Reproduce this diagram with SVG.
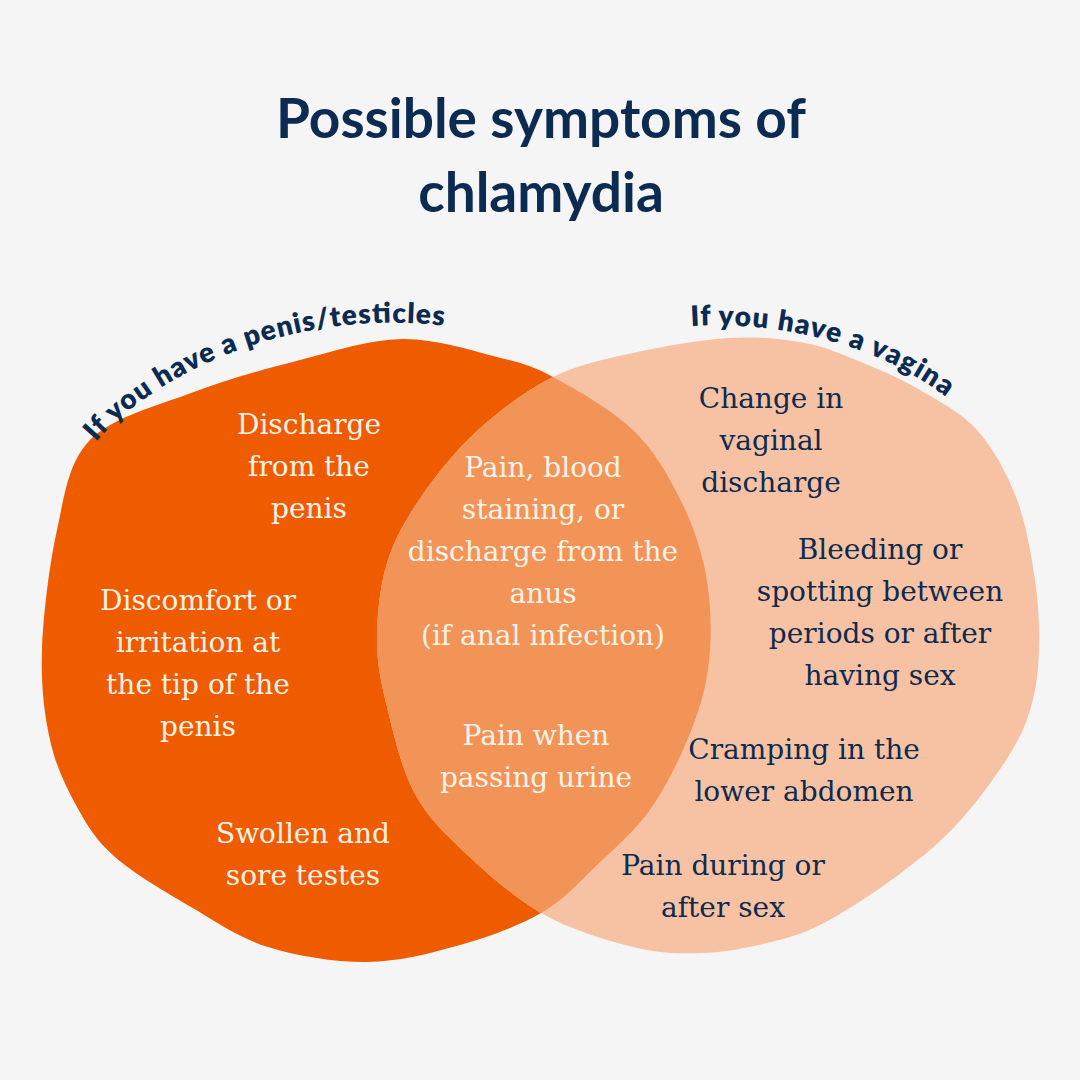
<svg xmlns="http://www.w3.org/2000/svg" width="1080" height="1080" viewBox="0 0 1080 1080">
  <style>
    .title { font-family: Lato, "Open Sans", "Liberation Sans", sans-serif; font-weight: 700; font-size: 55px; fill: #0c2b52; text-anchor: middle; }
    .arc { font-family: Lato, "Open Sans", "Liberation Sans", sans-serif; font-weight: 800; font-size: 28px; fill: #0c2b52; }
    .body { font-family: "DejaVu Serif", "Liberation Serif", serif; font-size: 28px; text-anchor: middle; }
    .light { fill: #fff3e8; }
    .dark { fill: #0e2a4e; }
  </style>
  <defs>
    <path id="leftShape" d="M402,339 C434.8,338.5 471.8,350.7 497,357 C522.2,363.3 530.3,364.8 553,377 C575.7,389.2 612,410 633,430 C654,450 667,473.7 679,497 C691,520.3 699.8,544.5 705,570 C710.2,595.5 711.8,624.5 710,650 C708.2,675.5 703.7,696.8 694,723 C684.3,749.2 668.5,783 652,807 C635.5,831 613.5,849.3 595,867 C576.5,884.7 563.5,900 541,913 C518.5,926 489,936.8 460,945 C431,953.2 399,961.7 367,962 C335,962.3 297.3,956.2 268,947 C238.7,937.8 216.5,922 191,907 C165.5,892 134,873.7 115,857 C96,840.3 87.8,826.5 77,807 C66.2,787.5 55.8,766.2 50,740 C44.2,713.8 40.8,685 42,650 C43.2,615 49.3,565 57,530 C64.7,495 68,462.8 90,440 C112.3,417.2 155.7,406.3 191,393 C226.3,379.7 264.8,369 300,360 C335.2,351 369.2,339.5 402,339 Z"/>
    <path id="rightShape" d="M729,338 C757.7,336.3 782.7,338.8 805,343 C827.3,347.2 843.8,355.2 863,363 C882.2,370.8 901,378.8 920,390 C939,401.2 961,412.2 977,430 C993,447.8 1006.3,472 1016,497 C1025.7,522 1031.2,554.5 1035,580 C1038.8,605.5 1039.7,628.8 1039,650 C1038.3,671.2 1036.2,689.2 1031,707 C1025.8,724.8 1020.2,737.7 1008,757 C995.8,776.3 975.8,803.7 958,823 C940.2,842.3 923.3,856.3 901,873 C878.7,889.7 846.3,911.3 824,923 C801.7,934.7 787.3,938 767,943 C746.7,948 724.3,952.3 702,953 C679.7,953.7 659.8,953.7 633,947 C606.2,940.3 570,929.7 541,913 C512,896.3 480.3,867.5 459,847 C437.7,826.5 425,813.3 413,790 C401,766.7 393,732 387,707 C381,682 377,664 377,640 C377,616 379.7,586.8 387,563 C394.3,539.2 405.8,519.2 421,497 C436.2,474.8 456,450 478,430 C500,410 527.2,389.8 553,377 C578.8,364.2 603.7,359.5 633,353 C662.3,346.5 700.3,339.7 729,338 Z"/>
    <clipPath id="clipLeft"><use href="#leftShape"/></clipPath>
    <path id="arcLeft" d="M96,442 C160,368 310,300 472,330"/>
    <path id="arcRight" d="M691,326 C760,322 872,334 960,408"/>
  </defs>

  <rect width="1080" height="1080" fill="#f5f5f5"/>

  <g id="title">
    <text class="title" x="541" y="138">Possible symptoms of</text>
    <text class="title" x="541" y="212">chlamydia</text>
  </g>

  <g id="set-penis">
    <use href="#leftShape" fill="#ef5c00"/>
  </g>
  <g id="set-vagina">
    <use href="#rightShape" fill="#f6c2a3"/>
  </g>
  <g id="set-overlap">
    <use href="#rightShape" fill="#f29357" clip-path="url(#clipLeft)"/>
  </g>

  <g id="label-penis">
    <text class="arc"><textPath href="#arcLeft" textLength="380">If you have a penis/testicles</textPath></text>
  </g>
  <g id="label-vagina">
    <text class="arc"><textPath href="#arcRight" textLength="270">If you have a vagina</textPath></text>
  </g>

  <g id="penis-discharge" class="body light">
    <text x="309" y="434">Discharge</text>
    <text x="309" y="476">from the</text>
    <text x="309" y="518">penis</text>
  </g>
  <g id="penis-discomfort" class="body light">
    <text x="198" y="610">Discomfort or</text>
    <text x="198" y="652">irritation at</text>
    <text x="198" y="694">the tip of the</text>
    <text x="198" y="736">penis</text>
  </g>
  <g id="penis-testes" class="body light">
    <text x="303" y="843">Swollen and</text>
    <text x="303" y="885">sore testes</text>
  </g>

  <g id="both-anus" class="body light">
    <text x="543" y="477">Pain, blood</text>
    <text x="543" y="519">staining, or</text>
    <text x="543" y="561">discharge from the</text>
    <text x="543" y="603">anus</text>
    <text x="543" y="645">(if anal infection)</text>
  </g>
  <g id="both-urine" class="body light">
    <text x="536" y="745">Pain when</text>
    <text x="536" y="787">passing urine</text>
  </g>

  <g id="vagina-discharge" class="body dark">
    <text x="771" y="408">Change in</text>
    <text x="771" y="450">vaginal</text>
    <text x="771" y="492">discharge</text>
  </g>
  <g id="vagina-bleeding" class="body dark">
    <text x="880" y="559">Bleeding or</text>
    <text x="880" y="601">spotting between</text>
    <text x="880" y="643">periods or after</text>
    <text x="880" y="685">having sex</text>
  </g>
  <g id="vagina-cramping" class="body dark">
    <text x="804" y="759">Cramping in the</text>
    <text x="804" y="801">lower abdomen</text>
  </g>
  <g id="vagina-pain-sex" class="body dark">
    <text x="723" y="875">Pain during or</text>
    <text x="723" y="917">after sex</text>
  </g>
</svg>
